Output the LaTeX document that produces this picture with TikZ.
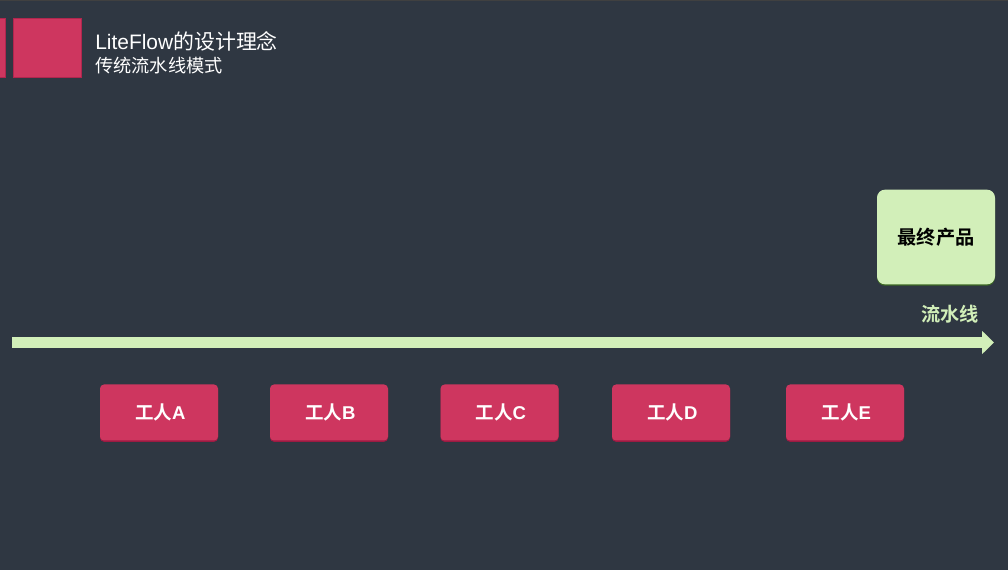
\documentclass[tikz,border=0pt]{standalone}
\usepackage{fontspec}
\setmainfont{Liberation Sans}
\newfontfamily\cjk[BoldFont=* Bold]{Noto Sans CJK SC}
\usetikzlibrary{arrows.meta, positioning, shadows}
\definecolor{slatebg}{HTML}{2F3742}
\definecolor{rosered}{HTML}{CE365F}
\definecolor{rosedark}{HTML}{9C1B42}
\definecolor{palegreen}{HTML}{D2EFB9}
\definecolor{greendark}{HTML}{3E6A24}
\tikzset{
    worker/.style={rectangle, rounded corners=3pt, fill=rosered, text=white,
        minimum width=88.5pt, minimum height=42pt, inner sep=0pt, font=\bfseries\fontsize{13.9}{16}\selectfont,
        execute at begin node=\hspace*{2pt},
        general shadow={fill=rosedark, shadow yshift=-1pt}},
    product/.style={rectangle, rounded corners=6pt, fill=palegreen, text=black,
        minimum width=88.5pt, minimum height=71pt, inner sep=0pt, font=\bfseries\fontsize{14.4}{16}\selectfont,
        general shadow={fill=greendark, shadow yshift=-1pt}},
    logo/.style={rectangle, fill=rosered, draw=rosedark!60!rosered, line width=0.4pt, inner sep=0pt, minimum height=44pt},
    title/.style={text=white, inner sep=0pt, anchor=west}
}
\begin{document}
\begin{tikzpicture}[x=0.75pt, y=-0.75pt, node distance=127.5pt, on grid]
    \useasboundingbox (0,0) rectangle (1008,570);
    \fill[slatebg] (0,0) rectangle (1008,570);
    \draw[black!75, line width=1pt] (0,0) -- (1008,0);
    % header
    \node[logo, minimum width=51pt] (logo_b) at (47,47.5) {};
    \node[logo, minimum width=6pt] (logo_a) at (1,47.5) {};
    \node[title, font=\fontsize{15.7}{18}\selectfont] (title) at (95,41) {LiteFlow{\cjk 的设计理念}};
    \node[title, font=\fontsize{13.65}{16}\selectfont] (subtitle) at (95,66) {\cjk 传统流水线模式};
    % line
    \coordinate (line_s) at (12,342.5);
    \coordinate (line_e) at (994,342.5);
    \draw[-{Triangle[length=9pt,width=17pt]}, palegreen, line width=8pt] (line_s) -- (line_e);
    \node[text=palegreen, inner sep=0pt, font=\bfseries\fontsize{14.4}{16}\selectfont] (line_label) at (950,314.5) {\cjk 流水线};
    % workers
    \node[worker] (w_a) at (159,412.5) {{\cjk 工人}A};
    \node[worker] (w_b) [right=of w_a] {{\cjk 工人}B};
    \node[worker] (w_c) [right=127.9pt of w_b] {{\cjk 工人}C};
    \node[worker] (w_d) [right=128.6pt of w_c] {{\cjk 工人}D};
    \node[worker] (w_e) [right=130.5pt of w_d] {{\cjk 工人}E};
    \node[product] (final) at (936,237) {\cjk 最终产品};
\end{tikzpicture}
\end{document}
